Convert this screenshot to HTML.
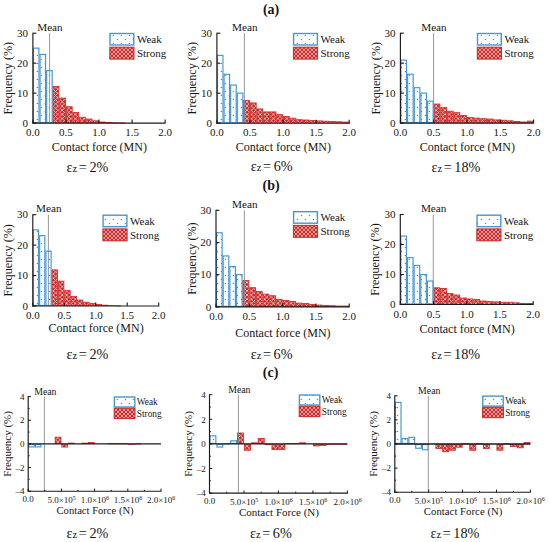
<!DOCTYPE html>
<html><head><meta charset="utf-8"><style>
html,body{margin:0;padding:0;background:#fff;}
svg{display:block;}
text{font-family:'Liberation Serif', serif;fill:#161616;}
</style></head><body>
<svg width="550" height="542" viewBox="0 0 550 542">
<defs>
<pattern id="pw" patternUnits="userSpaceOnUse" width="8" height="8" x="0.8" y="2.9">
<rect width="8" height="8" fill="#fff"/>
<rect x="0" y="0" width="1.1" height="1.1" fill="#2a64a8"/>
<rect x="4" y="4" width="1.1" height="1.1" fill="#2a64a8"/>
</pattern>
<pattern id="ps" patternUnits="userSpaceOnUse" width="4.4" height="4.2" x="0.6" y="1">
<rect width="4.4" height="4.2" fill="#cc2626"/>
<path d="M0 0L4.4 4.2M4.4 0L0 4.2" stroke="#f7e2e0" stroke-width="0.75"/>
</pattern>
<pattern id="pl" patternUnits="userSpaceOnUse" width="4" height="4">
<rect width="4" height="4" fill="#f0cfca"/>
<ellipse cx="0" cy="0" rx="1.45" ry="1.15" fill="#cc2626"/><ellipse cx="4" cy="0" rx="1.45" ry="1.15" fill="#cc2626"/><ellipse cx="0" cy="4" rx="1.45" ry="1.15" fill="#cc2626"/><ellipse cx="4" cy="4" rx="1.45" ry="1.15" fill="#cc2626"/>
<ellipse cx="2" cy="2" rx="1.45" ry="1.15" fill="#cc2626"/>
</pattern>
</defs>
<rect width="550" height="542" fill="#fff"/>
<rect x="33.45" y="48.13" width="5.51" height="74.42" fill="url(#pw)" stroke="#4596d6" stroke-width="1.15"/>
<rect x="40.06" y="54.43" width="5.51" height="68.12" fill="url(#pw)" stroke="#4596d6" stroke-width="1.15"/>
<rect x="46.67" y="70.61" width="5.51" height="51.94" fill="url(#pw)" stroke="#4596d6" stroke-width="1.15"/>
<rect x="53.13" y="86.34" width="5.81" height="36.36" fill="url(#ps)" stroke="#cc2626" stroke-width="0.8"/>
<rect x="59.74" y="98.03" width="5.81" height="24.67" fill="url(#ps)" stroke="#cc2626" stroke-width="0.8"/>
<rect x="66.35" y="106.72" width="5.81" height="15.98" fill="url(#ps)" stroke="#cc2626" stroke-width="0.8"/>
<rect x="72.96" y="112.41" width="5.81" height="10.29" fill="url(#ps)" stroke="#cc2626" stroke-width="0.8"/>
<rect x="79.57" y="117.21" width="5.81" height="5.49" fill="url(#ps)" stroke="#cc2626" stroke-width="0.8"/>
<rect x="86.18" y="119.00" width="5.81" height="3.70" fill="url(#ps)" stroke="#cc2626" stroke-width="0.8"/>
<rect x="92.79" y="120.80" width="5.81" height="1.90" fill="url(#ps)" stroke="#cc2626" stroke-width="0.8"/>
<rect x="99.40" y="122.00" width="5.81" height="0.70" fill="url(#ps)" stroke="#cc2626" stroke-width="0.8"/>
<rect x="106.01" y="122.45" width="5.81" height="0.25" fill="url(#ps)" stroke="#cc2626" stroke-width="0.8"/>
<rect x="112.62" y="122.75" width="5.81" height="0.10" fill="url(#ps)" stroke="#cc2626" stroke-width="0.8"/>
<rect x="119.23" y="122.90" width="5.81" height="0.10" fill="url(#ps)" stroke="#cc2626" stroke-width="0.8"/>
<line x1="49.60" y1="33.20" x2="49.60" y2="123.10" stroke="#8c8c8c" stroke-width="0.9"/>
<line x1="32.90" y1="32.70" x2="32.90" y2="123.60" stroke="#1a1a1a" stroke-width="1.15"/>
<line x1="32.40" y1="123.10" x2="165.60" y2="123.10" stroke="#1a1a1a" stroke-width="1.15"/>
<line x1="32.90" y1="123.10" x2="36.40" y2="123.10" stroke="#1a1a1a" stroke-width="1.1"/>
<text x="28.10" y="126.70" font-size="11" text-anchor="end" >0</text>
<line x1="32.90" y1="93.13" x2="36.40" y2="93.13" stroke="#1a1a1a" stroke-width="1.1"/>
<text x="28.10" y="96.73" font-size="11" text-anchor="end" >10</text>
<line x1="32.90" y1="63.17" x2="36.40" y2="63.17" stroke="#1a1a1a" stroke-width="1.1"/>
<text x="28.10" y="66.77" font-size="11" text-anchor="end" >20</text>
<line x1="32.90" y1="33.20" x2="36.40" y2="33.20" stroke="#1a1a1a" stroke-width="1.1"/>
<text x="28.10" y="36.80" font-size="11" text-anchor="end" >30</text>
<line x1="32.90" y1="123.10" x2="32.90" y2="119.60" stroke="#1a1a1a" stroke-width="1.1"/>
<text x="32.90" y="136.30" font-size="11" text-anchor="middle" >0.0</text>
<line x1="65.95" y1="123.10" x2="65.95" y2="119.60" stroke="#1a1a1a" stroke-width="1.1"/>
<text x="65.95" y="136.30" font-size="11" text-anchor="middle" >0.5</text>
<line x1="99.00" y1="123.10" x2="99.00" y2="119.60" stroke="#1a1a1a" stroke-width="1.1"/>
<text x="99.00" y="136.30" font-size="11" text-anchor="middle" >1.0</text>
<line x1="132.05" y1="123.10" x2="132.05" y2="119.60" stroke="#1a1a1a" stroke-width="1.1"/>
<text x="132.05" y="136.30" font-size="11" text-anchor="middle" >1.5</text>
<line x1="165.10" y1="123.10" x2="165.10" y2="119.60" stroke="#1a1a1a" stroke-width="1.1"/>
<text x="165.10" y="136.30" font-size="11" text-anchor="middle" >2.0</text>
<text x="37.20" y="30.80" font-size="11.2" text-anchor="start" >Mean</text>
<text x="99.30" y="150.60" font-size="12" text-anchor="middle" >Contact force (MN)</text>
<text x="11.80" y="78.15" font-size="12.15" text-anchor="middle" transform="rotate(-90 11.80 78.15)">Frequency (%)</text>
<rect x="110.00" y="33.50" width="23.80" height="11.50" fill="url(#pw)" stroke="#4596d6" stroke-width="1.4"/>
<rect x="109.80" y="47.20" width="24.20" height="11.90" fill="url(#pl)" stroke="#cc2626" stroke-width="1"/>
<text x="136.90" y="43.21" font-size="11" text-anchor="start" >Weak</text>
<text x="136.90" y="57.11" font-size="11" text-anchor="start" >Strong</text>
<text x="66.60" y="172.30" font-size="14.2">ε<tspan font-size="10.5">z</tspan><tspan dx="1.6">=</tspan><tspan dx="2.6">2%</tspan></text>
<rect x="217.45" y="55.35" width="5.52" height="67.30" fill="url(#pw)" stroke="#4596d6" stroke-width="1.15"/>
<rect x="224.07" y="74.25" width="5.51" height="48.40" fill="url(#pw)" stroke="#4596d6" stroke-width="1.15"/>
<rect x="230.68" y="85.05" width="5.52" height="37.60" fill="url(#pw)" stroke="#4596d6" stroke-width="1.15"/>
<rect x="237.30" y="93.15" width="5.52" height="29.50" fill="url(#pw)" stroke="#4596d6" stroke-width="1.15"/>
<rect x="243.76" y="100.50" width="5.81" height="22.30" fill="url(#ps)" stroke="#cc2626" stroke-width="0.8"/>
<rect x="250.38" y="102.90" width="5.82" height="19.90" fill="url(#ps)" stroke="#cc2626" stroke-width="0.8"/>
<rect x="256.99" y="108.90" width="5.81" height="13.90" fill="url(#ps)" stroke="#cc2626" stroke-width="0.8"/>
<rect x="263.60" y="111.90" width="5.82" height="10.90" fill="url(#ps)" stroke="#cc2626" stroke-width="0.8"/>
<rect x="270.22" y="111.90" width="5.82" height="10.90" fill="url(#ps)" stroke="#cc2626" stroke-width="0.8"/>
<rect x="276.83" y="114.60" width="5.82" height="8.20" fill="url(#ps)" stroke="#cc2626" stroke-width="0.8"/>
<rect x="283.45" y="116.40" width="5.81" height="6.40" fill="url(#ps)" stroke="#cc2626" stroke-width="0.8"/>
<rect x="290.06" y="118.20" width="5.82" height="4.60" fill="url(#ps)" stroke="#cc2626" stroke-width="0.8"/>
<rect x="296.68" y="119.70" width="5.82" height="3.10" fill="url(#ps)" stroke="#cc2626" stroke-width="0.8"/>
<rect x="303.29" y="120.00" width="5.82" height="2.80" fill="url(#ps)" stroke="#cc2626" stroke-width="0.8"/>
<rect x="309.91" y="120.60" width="5.82" height="2.20" fill="url(#ps)" stroke="#cc2626" stroke-width="0.8"/>
<rect x="316.52" y="120.90" width="5.82" height="1.90" fill="url(#ps)" stroke="#cc2626" stroke-width="0.8"/>
<rect x="323.14" y="121.20" width="5.82" height="1.60" fill="url(#ps)" stroke="#cc2626" stroke-width="0.8"/>
<rect x="329.75" y="121.50" width="5.82" height="1.30" fill="url(#ps)" stroke="#cc2626" stroke-width="0.8"/>
<rect x="336.37" y="121.80" width="5.81" height="1.00" fill="url(#ps)" stroke="#cc2626" stroke-width="0.8"/>
<rect x="342.98" y="122.10" width="5.82" height="0.70" fill="url(#ps)" stroke="#cc2626" stroke-width="0.8"/>
<line x1="244.40" y1="33.20" x2="244.40" y2="123.20" stroke="#8c8c8c" stroke-width="0.9"/>
<line x1="216.90" y1="32.70" x2="216.90" y2="123.70" stroke="#1a1a1a" stroke-width="1.15"/>
<line x1="216.40" y1="123.20" x2="349.70" y2="123.20" stroke="#1a1a1a" stroke-width="1.15"/>
<line x1="216.90" y1="123.20" x2="220.40" y2="123.20" stroke="#1a1a1a" stroke-width="1.1"/>
<text x="212.10" y="126.80" font-size="11" text-anchor="end" >0</text>
<line x1="216.90" y1="93.20" x2="220.40" y2="93.20" stroke="#1a1a1a" stroke-width="1.1"/>
<text x="212.10" y="96.80" font-size="11" text-anchor="end" >10</text>
<line x1="216.90" y1="63.20" x2="220.40" y2="63.20" stroke="#1a1a1a" stroke-width="1.1"/>
<text x="212.10" y="66.80" font-size="11" text-anchor="end" >20</text>
<line x1="216.90" y1="33.20" x2="220.40" y2="33.20" stroke="#1a1a1a" stroke-width="1.1"/>
<text x="212.10" y="36.80" font-size="11" text-anchor="end" >30</text>
<line x1="216.90" y1="123.20" x2="216.90" y2="119.70" stroke="#1a1a1a" stroke-width="1.1"/>
<text x="216.90" y="136.40" font-size="11" text-anchor="middle" >0.0</text>
<line x1="249.97" y1="123.20" x2="249.97" y2="119.70" stroke="#1a1a1a" stroke-width="1.1"/>
<text x="249.97" y="136.40" font-size="11" text-anchor="middle" >0.5</text>
<line x1="283.05" y1="123.20" x2="283.05" y2="119.70" stroke="#1a1a1a" stroke-width="1.1"/>
<text x="283.05" y="136.40" font-size="11" text-anchor="middle" >1.0</text>
<line x1="316.12" y1="123.20" x2="316.12" y2="119.70" stroke="#1a1a1a" stroke-width="1.1"/>
<text x="316.12" y="136.40" font-size="11" text-anchor="middle" >1.5</text>
<line x1="349.20" y1="123.20" x2="349.20" y2="119.70" stroke="#1a1a1a" stroke-width="1.1"/>
<text x="349.20" y="136.40" font-size="11" text-anchor="middle" >2.0</text>
<text x="232.00" y="30.80" font-size="11.2" text-anchor="start" >Mean</text>
<text x="283.35" y="150.60" font-size="12" text-anchor="middle" >Contact force (MN)</text>
<text x="195.80" y="78.20" font-size="12.15" text-anchor="middle" transform="rotate(-90 195.80 78.20)">Frequency (%)</text>
<rect x="293.60" y="33.50" width="23.80" height="11.50" fill="url(#pw)" stroke="#4596d6" stroke-width="1.4"/>
<rect x="293.40" y="47.20" width="24.20" height="11.90" fill="url(#pl)" stroke="#cc2626" stroke-width="1"/>
<text x="320.50" y="43.21" font-size="11" text-anchor="start" >Weak</text>
<text x="320.50" y="57.11" font-size="11" text-anchor="start" >Strong</text>
<text x="250.80" y="171.30" font-size="14.2">ε<tspan font-size="10.5">z</tspan><tspan dx="1.6">=</tspan><tspan dx="2.6">6%</tspan></text>
<rect x="400.95" y="60.12" width="5.56" height="62.43" fill="url(#pw)" stroke="#4596d6" stroke-width="1.15"/>
<rect x="407.61" y="74.20" width="5.56" height="48.34" fill="url(#pw)" stroke="#4596d6" stroke-width="1.15"/>
<rect x="414.27" y="87.69" width="5.56" height="34.86" fill="url(#pw)" stroke="#4596d6" stroke-width="1.15"/>
<rect x="420.93" y="93.08" width="5.56" height="29.47" fill="url(#pw)" stroke="#4596d6" stroke-width="1.15"/>
<rect x="427.59" y="101.17" width="5.56" height="21.37" fill="url(#pw)" stroke="#4596d6" stroke-width="1.15"/>
<rect x="434.10" y="104.02" width="5.86" height="18.68" fill="url(#ps)" stroke="#cc2626" stroke-width="0.8"/>
<rect x="440.76" y="107.62" width="5.86" height="15.08" fill="url(#ps)" stroke="#cc2626" stroke-width="0.8"/>
<rect x="447.42" y="111.21" width="5.86" height="11.49" fill="url(#ps)" stroke="#cc2626" stroke-width="0.8"/>
<rect x="454.08" y="112.71" width="5.86" height="9.99" fill="url(#ps)" stroke="#cc2626" stroke-width="0.8"/>
<rect x="460.74" y="115.41" width="5.86" height="7.29" fill="url(#ps)" stroke="#cc2626" stroke-width="0.8"/>
<rect x="467.40" y="117.51" width="5.86" height="5.19" fill="url(#ps)" stroke="#cc2626" stroke-width="0.8"/>
<rect x="474.06" y="118.11" width="5.86" height="4.59" fill="url(#ps)" stroke="#cc2626" stroke-width="0.8"/>
<rect x="480.72" y="118.71" width="5.86" height="3.99" fill="url(#ps)" stroke="#cc2626" stroke-width="0.8"/>
<rect x="487.38" y="119.00" width="5.86" height="3.70" fill="url(#ps)" stroke="#cc2626" stroke-width="0.8"/>
<rect x="494.04" y="119.90" width="5.86" height="2.80" fill="url(#ps)" stroke="#cc2626" stroke-width="0.8"/>
<rect x="500.70" y="120.20" width="5.86" height="2.50" fill="url(#ps)" stroke="#cc2626" stroke-width="0.8"/>
<rect x="507.36" y="120.80" width="5.86" height="1.90" fill="url(#ps)" stroke="#cc2626" stroke-width="0.8"/>
<rect x="514.02" y="121.40" width="5.86" height="1.30" fill="url(#ps)" stroke="#cc2626" stroke-width="0.8"/>
<rect x="520.68" y="122.00" width="5.86" height="0.70" fill="url(#ps)" stroke="#cc2626" stroke-width="0.8"/>
<rect x="527.34" y="121.10" width="5.86" height="1.60" fill="url(#ps)" stroke="#cc2626" stroke-width="0.8"/>
<line x1="433.60" y1="33.20" x2="433.60" y2="123.10" stroke="#8c8c8c" stroke-width="0.9"/>
<line x1="400.40" y1="32.70" x2="400.40" y2="123.60" stroke="#1a1a1a" stroke-width="1.15"/>
<line x1="399.90" y1="123.10" x2="534.10" y2="123.10" stroke="#1a1a1a" stroke-width="1.15"/>
<line x1="400.40" y1="123.10" x2="403.90" y2="123.10" stroke="#1a1a1a" stroke-width="1.1"/>
<text x="395.60" y="126.70" font-size="11" text-anchor="end" >0</text>
<line x1="400.40" y1="93.13" x2="403.90" y2="93.13" stroke="#1a1a1a" stroke-width="1.1"/>
<text x="395.60" y="96.73" font-size="11" text-anchor="end" >10</text>
<line x1="400.40" y1="63.17" x2="403.90" y2="63.17" stroke="#1a1a1a" stroke-width="1.1"/>
<text x="395.60" y="66.77" font-size="11" text-anchor="end" >20</text>
<line x1="400.40" y1="33.20" x2="403.90" y2="33.20" stroke="#1a1a1a" stroke-width="1.1"/>
<text x="395.60" y="36.80" font-size="11" text-anchor="end" >30</text>
<line x1="400.40" y1="123.10" x2="400.40" y2="119.60" stroke="#1a1a1a" stroke-width="1.1"/>
<text x="400.40" y="136.30" font-size="11" text-anchor="middle" >0.0</text>
<line x1="433.70" y1="123.10" x2="433.70" y2="119.60" stroke="#1a1a1a" stroke-width="1.1"/>
<text x="433.70" y="136.30" font-size="11" text-anchor="middle" >0.5</text>
<line x1="467.00" y1="123.10" x2="467.00" y2="119.60" stroke="#1a1a1a" stroke-width="1.1"/>
<text x="467.00" y="136.30" font-size="11" text-anchor="middle" >1.0</text>
<line x1="500.30" y1="123.10" x2="500.30" y2="119.60" stroke="#1a1a1a" stroke-width="1.1"/>
<text x="500.30" y="136.30" font-size="11" text-anchor="middle" >1.5</text>
<line x1="533.60" y1="123.10" x2="533.60" y2="119.60" stroke="#1a1a1a" stroke-width="1.1"/>
<text x="533.60" y="136.30" font-size="11" text-anchor="middle" >2.0</text>
<text x="421.20" y="30.80" font-size="11.2" text-anchor="start" >Mean</text>
<text x="467.30" y="150.60" font-size="12" text-anchor="middle" >Contact force (MN)</text>
<text x="379.80" y="78.15" font-size="12.15" text-anchor="middle" transform="rotate(-90 379.80 78.15)">Frequency (%)</text>
<rect x="477.50" y="33.50" width="23.80" height="11.50" fill="url(#pw)" stroke="#4596d6" stroke-width="1.4"/>
<rect x="477.30" y="47.20" width="24.20" height="11.90" fill="url(#pl)" stroke="#cc2626" stroke-width="1"/>
<text x="504.40" y="43.21" font-size="11" text-anchor="start" >Weak</text>
<text x="504.40" y="57.11" font-size="11" text-anchor="start" >Strong</text>
<text x="431.50" y="171.60" font-size="14.2">ε<tspan font-size="10.5">z</tspan><tspan dx="1.6">=</tspan><tspan dx="2.6">18%</tspan></text>
<rect x="33.35" y="229.86" width="5.20" height="75.59" fill="url(#pw)" stroke="#4596d6" stroke-width="1.15"/>
<rect x="39.64" y="235.64" width="5.20" height="69.81" fill="url(#pw)" stroke="#4596d6" stroke-width="1.15"/>
<rect x="45.94" y="251.16" width="5.19" height="54.29" fill="url(#pw)" stroke="#4596d6" stroke-width="1.15"/>
<rect x="52.08" y="269.88" width="5.50" height="35.72" fill="url(#ps)" stroke="#cc2626" stroke-width="0.8"/>
<rect x="58.38" y="281.14" width="5.50" height="24.46" fill="url(#ps)" stroke="#cc2626" stroke-width="0.8"/>
<rect x="64.68" y="290.57" width="5.49" height="15.03" fill="url(#ps)" stroke="#cc2626" stroke-width="0.8"/>
<rect x="70.97" y="296.36" width="5.50" height="9.24" fill="url(#ps)" stroke="#cc2626" stroke-width="0.8"/>
<rect x="77.27" y="300.01" width="5.50" height="5.59" fill="url(#ps)" stroke="#cc2626" stroke-width="0.8"/>
<rect x="83.56" y="302.14" width="5.50" height="3.46" fill="url(#ps)" stroke="#cc2626" stroke-width="0.8"/>
<rect x="89.86" y="303.36" width="5.50" height="2.24" fill="url(#ps)" stroke="#cc2626" stroke-width="0.8"/>
<rect x="96.15" y="304.57" width="5.50" height="1.03" fill="url(#ps)" stroke="#cc2626" stroke-width="0.8"/>
<rect x="102.45" y="305.18" width="5.49" height="0.42" fill="url(#ps)" stroke="#cc2626" stroke-width="0.8"/>
<rect x="108.74" y="305.49" width="5.50" height="0.11" fill="url(#ps)" stroke="#cc2626" stroke-width="0.8"/>
<rect x="115.03" y="305.79" width="5.50" height="0.10" fill="url(#ps)" stroke="#cc2626" stroke-width="0.8"/>
<line x1="48.40" y1="214.70" x2="48.40" y2="306.00" stroke="#8c8c8c" stroke-width="0.9"/>
<line x1="32.80" y1="214.20" x2="32.80" y2="306.50" stroke="#1a1a1a" stroke-width="1.15"/>
<line x1="32.30" y1="306.00" x2="159.20" y2="306.00" stroke="#1a1a1a" stroke-width="1.15"/>
<line x1="32.80" y1="306.00" x2="36.30" y2="306.00" stroke="#1a1a1a" stroke-width="1.1"/>
<text x="28.00" y="309.60" font-size="11" text-anchor="end" >0</text>
<line x1="32.80" y1="275.57" x2="36.30" y2="275.57" stroke="#1a1a1a" stroke-width="1.1"/>
<text x="28.00" y="279.17" font-size="11" text-anchor="end" >10</text>
<line x1="32.80" y1="245.13" x2="36.30" y2="245.13" stroke="#1a1a1a" stroke-width="1.1"/>
<text x="28.00" y="248.73" font-size="11" text-anchor="end" >20</text>
<line x1="32.80" y1="214.70" x2="36.30" y2="214.70" stroke="#1a1a1a" stroke-width="1.1"/>
<text x="28.00" y="218.30" font-size="11" text-anchor="end" >30</text>
<line x1="32.80" y1="306.00" x2="32.80" y2="302.50" stroke="#1a1a1a" stroke-width="1.1"/>
<text x="32.80" y="319.20" font-size="11" text-anchor="middle" >0.0</text>
<line x1="64.27" y1="306.00" x2="64.27" y2="302.50" stroke="#1a1a1a" stroke-width="1.1"/>
<text x="64.27" y="319.20" font-size="11" text-anchor="middle" >0.5</text>
<line x1="95.75" y1="306.00" x2="95.75" y2="302.50" stroke="#1a1a1a" stroke-width="1.1"/>
<text x="95.75" y="319.20" font-size="11" text-anchor="middle" >1.0</text>
<line x1="127.22" y1="306.00" x2="127.22" y2="302.50" stroke="#1a1a1a" stroke-width="1.1"/>
<text x="127.22" y="319.20" font-size="11" text-anchor="middle" >1.5</text>
<line x1="158.70" y1="306.00" x2="158.70" y2="302.50" stroke="#1a1a1a" stroke-width="1.1"/>
<text x="158.70" y="319.20" font-size="11" text-anchor="middle" >2.0</text>
<text x="36.00" y="212.30" font-size="11.2" text-anchor="start" >Mean</text>
<text x="96.05" y="331.80" font-size="12" text-anchor="middle" >Contact force (MN)</text>
<text x="11.70" y="260.35" font-size="12.15" text-anchor="middle" transform="rotate(-90 11.70 260.35)">Frequency (%)</text>
<rect x="103.10" y="215.20" width="23.80" height="11.50" fill="url(#pw)" stroke="#4596d6" stroke-width="1.4"/>
<rect x="102.90" y="228.90" width="24.20" height="11.90" fill="url(#pl)" stroke="#cc2626" stroke-width="1"/>
<text x="130.00" y="224.91" font-size="11" text-anchor="start" >Weak</text>
<text x="130.00" y="238.81" font-size="11" text-anchor="start" >Strong</text>
<text x="66.60" y="359.10" font-size="14.2">ε<tspan font-size="10.5">z</tspan><tspan dx="1.6">=</tspan><tspan dx="2.6">2%</tspan></text>
<rect x="216.55" y="232.75" width="5.56" height="73.60" fill="url(#pw)" stroke="#4596d6" stroke-width="1.15"/>
<rect x="223.21" y="255.93" width="5.56" height="50.42" fill="url(#pw)" stroke="#4596d6" stroke-width="1.15"/>
<rect x="229.87" y="266.56" width="5.56" height="39.79" fill="url(#pw)" stroke="#4596d6" stroke-width="1.15"/>
<rect x="236.53" y="274.61" width="5.56" height="31.74" fill="url(#pw)" stroke="#4596d6" stroke-width="1.15"/>
<rect x="243.04" y="280.57" width="5.86" height="25.93" fill="url(#ps)" stroke="#cc2626" stroke-width="0.8"/>
<rect x="249.70" y="287.66" width="5.86" height="18.84" fill="url(#ps)" stroke="#cc2626" stroke-width="0.8"/>
<rect x="256.36" y="291.52" width="5.86" height="14.98" fill="url(#ps)" stroke="#cc2626" stroke-width="0.8"/>
<rect x="263.02" y="294.10" width="5.86" height="12.40" fill="url(#ps)" stroke="#cc2626" stroke-width="0.8"/>
<rect x="269.68" y="295.71" width="5.86" height="10.79" fill="url(#ps)" stroke="#cc2626" stroke-width="0.8"/>
<rect x="276.34" y="299.25" width="5.86" height="7.25" fill="url(#ps)" stroke="#cc2626" stroke-width="0.8"/>
<rect x="283.00" y="300.54" width="5.86" height="5.96" fill="url(#ps)" stroke="#cc2626" stroke-width="0.8"/>
<rect x="289.66" y="301.50" width="5.86" height="5.00" fill="url(#ps)" stroke="#cc2626" stroke-width="0.8"/>
<rect x="296.32" y="303.11" width="5.86" height="3.39" fill="url(#ps)" stroke="#cc2626" stroke-width="0.8"/>
<rect x="302.98" y="303.44" width="5.86" height="3.06" fill="url(#ps)" stroke="#cc2626" stroke-width="0.8"/>
<rect x="309.64" y="304.40" width="5.86" height="2.10" fill="url(#ps)" stroke="#cc2626" stroke-width="0.8"/>
<rect x="316.30" y="305.05" width="5.86" height="1.45" fill="url(#ps)" stroke="#cc2626" stroke-width="0.8"/>
<rect x="322.96" y="305.37" width="5.86" height="1.13" fill="url(#ps)" stroke="#cc2626" stroke-width="0.8"/>
<rect x="329.62" y="305.69" width="5.86" height="0.81" fill="url(#ps)" stroke="#cc2626" stroke-width="0.8"/>
<rect x="336.28" y="306.01" width="5.86" height="0.49" fill="url(#ps)" stroke="#cc2626" stroke-width="0.8"/>
<rect x="342.94" y="306.01" width="5.86" height="0.49" fill="url(#ps)" stroke="#cc2626" stroke-width="0.8"/>
<line x1="244.40" y1="210.30" x2="244.40" y2="306.90" stroke="#8c8c8c" stroke-width="0.9"/>
<line x1="216.00" y1="209.80" x2="216.00" y2="307.40" stroke="#1a1a1a" stroke-width="1.15"/>
<line x1="215.50" y1="306.90" x2="349.70" y2="306.90" stroke="#1a1a1a" stroke-width="1.15"/>
<line x1="216.00" y1="306.90" x2="219.50" y2="306.90" stroke="#1a1a1a" stroke-width="1.1"/>
<text x="211.20" y="310.50" font-size="11" text-anchor="end" >0</text>
<line x1="216.00" y1="274.70" x2="219.50" y2="274.70" stroke="#1a1a1a" stroke-width="1.1"/>
<text x="211.20" y="278.30" font-size="11" text-anchor="end" >10</text>
<line x1="216.00" y1="242.50" x2="219.50" y2="242.50" stroke="#1a1a1a" stroke-width="1.1"/>
<text x="211.20" y="246.10" font-size="11" text-anchor="end" >20</text>
<line x1="216.00" y1="210.30" x2="219.50" y2="210.30" stroke="#1a1a1a" stroke-width="1.1"/>
<text x="211.20" y="213.90" font-size="11" text-anchor="end" >30</text>
<line x1="216.00" y1="306.90" x2="216.00" y2="303.40" stroke="#1a1a1a" stroke-width="1.1"/>
<text x="216.00" y="320.10" font-size="11" text-anchor="middle" >0.0</text>
<line x1="249.30" y1="306.90" x2="249.30" y2="303.40" stroke="#1a1a1a" stroke-width="1.1"/>
<text x="249.30" y="320.10" font-size="11" text-anchor="middle" >0.5</text>
<line x1="282.60" y1="306.90" x2="282.60" y2="303.40" stroke="#1a1a1a" stroke-width="1.1"/>
<text x="282.60" y="320.10" font-size="11" text-anchor="middle" >1.0</text>
<line x1="315.90" y1="306.90" x2="315.90" y2="303.40" stroke="#1a1a1a" stroke-width="1.1"/>
<text x="315.90" y="320.10" font-size="11" text-anchor="middle" >1.5</text>
<line x1="349.20" y1="306.90" x2="349.20" y2="303.40" stroke="#1a1a1a" stroke-width="1.1"/>
<text x="349.20" y="320.10" font-size="11" text-anchor="middle" >2.0</text>
<text x="232.00" y="207.90" font-size="11.2" text-anchor="start" >Mean</text>
<text x="282.90" y="337.00" font-size="12" text-anchor="middle" >Contact force (MN)</text>
<text x="195.80" y="258.60" font-size="12.15" text-anchor="middle" transform="rotate(-90 195.80 258.60)">Frequency (%)</text>
<rect x="293.60" y="211.70" width="23.80" height="11.50" fill="url(#pw)" stroke="#4596d6" stroke-width="1.4"/>
<rect x="293.40" y="225.40" width="24.20" height="11.90" fill="url(#pl)" stroke="#cc2626" stroke-width="1"/>
<text x="320.50" y="221.41" font-size="11" text-anchor="start" >Weak</text>
<text x="320.50" y="235.31" font-size="11" text-anchor="start" >Strong</text>
<text x="250.70" y="358.50" font-size="14.2">ε<tspan font-size="10.5">z</tspan><tspan dx="1.6">=</tspan><tspan dx="2.6">6%</tspan></text>
<rect x="400.85" y="236.05" width="5.54" height="67.90" fill="url(#pw)" stroke="#4596d6" stroke-width="1.15"/>
<rect x="407.50" y="257.65" width="5.55" height="46.30" fill="url(#pw)" stroke="#4596d6" stroke-width="1.15"/>
<rect x="414.14" y="265.45" width="5.54" height="38.50" fill="url(#pw)" stroke="#4596d6" stroke-width="1.15"/>
<rect x="420.79" y="274.45" width="5.54" height="29.50" fill="url(#pw)" stroke="#4596d6" stroke-width="1.15"/>
<rect x="427.43" y="281.05" width="5.55" height="22.90" fill="url(#pw)" stroke="#4596d6" stroke-width="1.15"/>
<rect x="433.93" y="287.80" width="5.84" height="16.30" fill="url(#ps)" stroke="#cc2626" stroke-width="0.8"/>
<rect x="440.57" y="288.40" width="5.84" height="15.70" fill="url(#ps)" stroke="#cc2626" stroke-width="0.8"/>
<rect x="447.21" y="293.50" width="5.85" height="10.60" fill="url(#ps)" stroke="#cc2626" stroke-width="0.8"/>
<rect x="453.86" y="295.00" width="5.84" height="9.10" fill="url(#ps)" stroke="#cc2626" stroke-width="0.8"/>
<rect x="460.50" y="298.00" width="5.84" height="6.10" fill="url(#ps)" stroke="#cc2626" stroke-width="0.8"/>
<rect x="467.15" y="298.90" width="5.85" height="5.20" fill="url(#ps)" stroke="#cc2626" stroke-width="0.8"/>
<rect x="473.80" y="299.50" width="5.84" height="4.60" fill="url(#ps)" stroke="#cc2626" stroke-width="0.8"/>
<rect x="480.44" y="301.00" width="5.85" height="3.10" fill="url(#ps)" stroke="#cc2626" stroke-width="0.8"/>
<rect x="487.09" y="301.60" width="5.84" height="2.50" fill="url(#ps)" stroke="#cc2626" stroke-width="0.8"/>
<rect x="493.73" y="301.90" width="5.84" height="2.20" fill="url(#ps)" stroke="#cc2626" stroke-width="0.8"/>
<rect x="500.38" y="302.20" width="5.84" height="1.90" fill="url(#ps)" stroke="#cc2626" stroke-width="0.8"/>
<rect x="507.02" y="302.20" width="5.84" height="1.90" fill="url(#ps)" stroke="#cc2626" stroke-width="0.8"/>
<rect x="513.66" y="302.80" width="5.85" height="1.30" fill="url(#ps)" stroke="#cc2626" stroke-width="0.8"/>
<rect x="520.31" y="303.40" width="5.84" height="0.70" fill="url(#ps)" stroke="#cc2626" stroke-width="0.8"/>
<rect x="526.96" y="303.40" width="5.84" height="0.70" fill="url(#ps)" stroke="#cc2626" stroke-width="0.8"/>
<line x1="433.30" y1="214.50" x2="433.30" y2="304.50" stroke="#8c8c8c" stroke-width="0.9"/>
<line x1="400.30" y1="214.00" x2="400.30" y2="305.00" stroke="#1a1a1a" stroke-width="1.15"/>
<line x1="399.80" y1="304.50" x2="533.70" y2="304.50" stroke="#1a1a1a" stroke-width="1.15"/>
<line x1="400.30" y1="304.50" x2="403.80" y2="304.50" stroke="#1a1a1a" stroke-width="1.1"/>
<text x="395.50" y="308.10" font-size="11" text-anchor="end" >0</text>
<line x1="400.30" y1="274.50" x2="403.80" y2="274.50" stroke="#1a1a1a" stroke-width="1.1"/>
<text x="395.50" y="278.10" font-size="11" text-anchor="end" >10</text>
<line x1="400.30" y1="244.50" x2="403.80" y2="244.50" stroke="#1a1a1a" stroke-width="1.1"/>
<text x="395.50" y="248.10" font-size="11" text-anchor="end" >20</text>
<line x1="400.30" y1="214.50" x2="403.80" y2="214.50" stroke="#1a1a1a" stroke-width="1.1"/>
<text x="395.50" y="218.10" font-size="11" text-anchor="end" >30</text>
<line x1="400.30" y1="304.50" x2="400.30" y2="301.00" stroke="#1a1a1a" stroke-width="1.1"/>
<text x="400.30" y="317.70" font-size="11" text-anchor="middle" >0.0</text>
<line x1="433.53" y1="304.50" x2="433.53" y2="301.00" stroke="#1a1a1a" stroke-width="1.1"/>
<text x="433.53" y="317.70" font-size="11" text-anchor="middle" >0.5</text>
<line x1="466.75" y1="304.50" x2="466.75" y2="301.00" stroke="#1a1a1a" stroke-width="1.1"/>
<text x="466.75" y="317.70" font-size="11" text-anchor="middle" >1.0</text>
<line x1="499.98" y1="304.50" x2="499.98" y2="301.00" stroke="#1a1a1a" stroke-width="1.1"/>
<text x="499.98" y="317.70" font-size="11" text-anchor="middle" >1.5</text>
<line x1="533.20" y1="304.50" x2="533.20" y2="301.00" stroke="#1a1a1a" stroke-width="1.1"/>
<text x="533.20" y="317.70" font-size="11" text-anchor="middle" >2.0</text>
<text x="420.90" y="212.10" font-size="11.2" text-anchor="start" >Mean</text>
<text x="467.05" y="332.80" font-size="12" text-anchor="middle" >Contact force (MN)</text>
<text x="379.10" y="259.50" font-size="12.15" text-anchor="middle" transform="rotate(-90 379.10 259.50)">Frequency (%)</text>
<rect x="477.00" y="215.20" width="23.80" height="11.50" fill="url(#pw)" stroke="#4596d6" stroke-width="1.4"/>
<rect x="476.80" y="228.90" width="24.20" height="11.90" fill="url(#pl)" stroke="#cc2626" stroke-width="1"/>
<text x="503.90" y="224.91" font-size="11" text-anchor="start" >Weak</text>
<text x="503.90" y="238.81" font-size="11" text-anchor="start" >Strong</text>
<text x="431.20" y="359.10" font-size="14.2">ε<tspan font-size="10.5">z</tspan><tspan dx="1.6">=</tspan><tspan dx="2.6">18%</tspan></text>
<rect x="28.75" y="444.45" width="5.54" height="2.45" fill="url(#pw)" stroke="#4596d6" stroke-width="1.15"/>
<rect x="35.39" y="444.45" width="5.54" height="2.45" fill="url(#pw)" stroke="#4596d6" stroke-width="1.15"/>
<rect x="55.16" y="437.20" width="5.84" height="6.29" fill="url(#ps)" stroke="#cc2626" stroke-width="0.8"/>
<rect x="61.80" y="444.30" width="5.84" height="2.75" fill="url(#ps)" stroke="#cc2626" stroke-width="0.8"/>
<rect x="68.44" y="443.12" width="5.84" height="0.38" fill="url(#ps)" stroke="#cc2626" stroke-width="0.8"/>
<rect x="81.72" y="443.12" width="5.84" height="0.38" fill="url(#ps)" stroke="#cc2626" stroke-width="0.8"/>
<rect x="88.36" y="442.53" width="5.84" height="0.97" fill="url(#ps)" stroke="#cc2626" stroke-width="0.8"/>
<rect x="108.28" y="443.71" width="5.84" height="0.10" fill="url(#ps)" stroke="#cc2626" stroke-width="0.8"/>
<rect x="114.92" y="443.71" width="5.84" height="0.10" fill="url(#ps)" stroke="#cc2626" stroke-width="0.8"/>
<rect x="121.56" y="443.71" width="5.84" height="0.10" fill="url(#ps)" stroke="#cc2626" stroke-width="0.8"/>
<rect x="128.20" y="444.30" width="5.84" height="0.10" fill="url(#ps)" stroke="#cc2626" stroke-width="0.8"/>
<rect x="134.84" y="443.95" width="5.84" height="0.10" fill="url(#ps)" stroke="#cc2626" stroke-width="0.8"/>
<line x1="44.40" y1="396.60" x2="44.40" y2="491.20" stroke="#8c8c8c" stroke-width="0.9"/>
<line x1="28.20" y1="443.90" x2="161.00" y2="443.90" stroke="#1a1a1a" stroke-width="1.3"/>
<line x1="28.20" y1="396.10" x2="28.20" y2="491.70" stroke="#1a1a1a" stroke-width="1.15"/>
<line x1="27.70" y1="491.20" x2="161.50" y2="491.20" stroke="#1a1a1a" stroke-width="1.15"/>
<line x1="28.20" y1="491.20" x2="31.00" y2="491.20" stroke="#1a1a1a" stroke-width="1.0"/>
<text x="24.40" y="494.40" font-size="9" text-anchor="end" >–4</text>
<line x1="28.20" y1="479.38" x2="29.60" y2="479.38" stroke="#1a1a1a" stroke-width="1.0"/>
<line x1="28.20" y1="467.55" x2="31.00" y2="467.55" stroke="#1a1a1a" stroke-width="1.0"/>
<text x="24.40" y="470.75" font-size="9" text-anchor="end" >–2</text>
<line x1="28.20" y1="455.73" x2="29.60" y2="455.73" stroke="#1a1a1a" stroke-width="1.0"/>
<line x1="28.20" y1="443.90" x2="31.00" y2="443.90" stroke="#1a1a1a" stroke-width="1.0"/>
<text x="24.40" y="447.10" font-size="9" text-anchor="end" >0</text>
<line x1="28.20" y1="432.07" x2="29.60" y2="432.07" stroke="#1a1a1a" stroke-width="1.0"/>
<line x1="28.20" y1="420.25" x2="31.00" y2="420.25" stroke="#1a1a1a" stroke-width="1.0"/>
<text x="24.40" y="423.45" font-size="9" text-anchor="end" >2</text>
<line x1="28.20" y1="408.43" x2="29.60" y2="408.43" stroke="#1a1a1a" stroke-width="1.0"/>
<line x1="28.20" y1="396.60" x2="31.00" y2="396.60" stroke="#1a1a1a" stroke-width="1.0"/>
<text x="24.40" y="399.80" font-size="9" text-anchor="end" >4</text>
<line x1="28.20" y1="491.20" x2="28.20" y2="488.60" stroke="#1a1a1a" stroke-width="1.0"/>
<text x="28.20" y="501.60" font-size="9" text-anchor="middle" >0.0</text>
<line x1="44.80" y1="491.20" x2="44.80" y2="489.80" stroke="#1a1a1a" stroke-width="1.0"/>
<line x1="61.40" y1="491.20" x2="61.40" y2="488.60" stroke="#1a1a1a" stroke-width="1.0"/>
<text x="61.60" y="503.20" font-size="9" text-anchor="middle" >5.0×10<tspan font-size="6" dy="-3.6">5</tspan></text>
<line x1="78.00" y1="491.20" x2="78.00" y2="489.80" stroke="#1a1a1a" stroke-width="1.0"/>
<line x1="94.60" y1="491.20" x2="94.60" y2="488.60" stroke="#1a1a1a" stroke-width="1.0"/>
<text x="94.80" y="503.20" font-size="9" text-anchor="middle" >1.0×10<tspan font-size="6" dy="-3.6">6</tspan></text>
<line x1="111.20" y1="491.20" x2="111.20" y2="489.80" stroke="#1a1a1a" stroke-width="1.0"/>
<line x1="127.80" y1="491.20" x2="127.80" y2="488.60" stroke="#1a1a1a" stroke-width="1.0"/>
<text x="128.00" y="503.20" font-size="9" text-anchor="middle" >1.5×10<tspan font-size="6" dy="-3.6">6</tspan></text>
<line x1="144.40" y1="491.20" x2="144.40" y2="489.80" stroke="#1a1a1a" stroke-width="1.0"/>
<line x1="161.00" y1="491.20" x2="161.00" y2="488.60" stroke="#1a1a1a" stroke-width="1.0"/>
<text x="161.20" y="503.20" font-size="9" text-anchor="middle" >2.0×10<tspan font-size="6" dy="-3.6">6</tspan></text>
<text x="34.20" y="395.00" font-size="9.8" text-anchor="start" >Mean</text>
<text x="95.10" y="513.80" font-size="10.6" text-anchor="middle" >Contact Force (N)</text>
<text x="10.80" y="443.90" font-size="11" text-anchor="middle" transform="rotate(-90 10.80 443.90)">Frequency (%)</text>
<rect x="114.40" y="397.00" width="20.40" height="10.00" fill="url(#pw)" stroke="#4596d6" stroke-width="1.4"/>
<rect x="114.20" y="408.20" width="20.80" height="10.40" fill="url(#pl)" stroke="#cc2626" stroke-width="1"/>
<text x="136.80" y="405.35" font-size="9.3" text-anchor="start" >Weak</text>
<text x="136.80" y="416.75" font-size="9.3" text-anchor="start" >Strong</text>
<text x="66.60" y="538.00" font-size="14.2">ε<tspan font-size="10.5">z</tspan><tspan dx="1.6">=</tspan><tspan dx="2.6">2%</tspan></text>
<rect x="210.05" y="435.84" width="5.80" height="7.51" fill="url(#pw)" stroke="#4596d6" stroke-width="1.15"/>
<rect x="216.95" y="444.45" width="5.79" height="2.59" fill="url(#pw)" stroke="#4596d6" stroke-width="1.15"/>
<rect x="223.84" y="443.83" width="5.80" height="0.10" fill="url(#pw)" stroke="#4596d6" stroke-width="1.15"/>
<rect x="230.74" y="440.76" width="5.79" height="2.59" fill="url(#pw)" stroke="#4596d6" stroke-width="1.15"/>
<rect x="237.48" y="432.98" width="6.10" height="10.52" fill="url(#ps)" stroke="#cc2626" stroke-width="0.8"/>
<rect x="244.38" y="444.30" width="6.10" height="5.96" fill="url(#ps)" stroke="#cc2626" stroke-width="0.8"/>
<rect x="251.27" y="442.82" width="6.09" height="0.68" fill="url(#ps)" stroke="#cc2626" stroke-width="0.8"/>
<rect x="258.16" y="438.52" width="6.09" height="4.98" fill="url(#ps)" stroke="#cc2626" stroke-width="0.8"/>
<rect x="265.06" y="444.30" width="6.10" height="0.43" fill="url(#ps)" stroke="#cc2626" stroke-width="0.8"/>
<rect x="271.95" y="444.30" width="6.09" height="5.35" fill="url(#ps)" stroke="#cc2626" stroke-width="0.8"/>
<rect x="278.85" y="444.30" width="6.09" height="5.35" fill="url(#ps)" stroke="#cc2626" stroke-width="0.8"/>
<rect x="285.74" y="443.68" width="6.10" height="0.10" fill="url(#ps)" stroke="#cc2626" stroke-width="0.8"/>
<rect x="292.64" y="443.68" width="6.09" height="0.10" fill="url(#ps)" stroke="#cc2626" stroke-width="0.8"/>
<rect x="299.53" y="442.82" width="6.09" height="0.68" fill="url(#ps)" stroke="#cc2626" stroke-width="0.8"/>
<rect x="313.32" y="444.30" width="6.10" height="1.66" fill="url(#ps)" stroke="#cc2626" stroke-width="0.8"/>
<rect x="320.22" y="444.30" width="6.09" height="1.05" fill="url(#ps)" stroke="#cc2626" stroke-width="0.8"/>
<rect x="327.11" y="444.30" width="6.09" height="0.10" fill="url(#ps)" stroke="#cc2626" stroke-width="0.8"/>
<rect x="334.01" y="444.30" width="6.10" height="0.10" fill="url(#ps)" stroke="#cc2626" stroke-width="0.8"/>
<rect x="340.90" y="444.30" width="6.09" height="0.10" fill="url(#ps)" stroke="#cc2626" stroke-width="0.8"/>
<line x1="238.40" y1="394.70" x2="238.40" y2="493.10" stroke="#8c8c8c" stroke-width="0.9"/>
<line x1="209.50" y1="443.90" x2="347.40" y2="443.90" stroke="#1a1a1a" stroke-width="1.3"/>
<line x1="209.50" y1="394.20" x2="209.50" y2="493.60" stroke="#1a1a1a" stroke-width="1.15"/>
<line x1="209.00" y1="493.10" x2="347.90" y2="493.10" stroke="#1a1a1a" stroke-width="1.15"/>
<line x1="209.50" y1="493.10" x2="212.30" y2="493.10" stroke="#1a1a1a" stroke-width="1.0"/>
<text x="205.70" y="496.30" font-size="9" text-anchor="end" >–4</text>
<line x1="209.50" y1="480.80" x2="210.90" y2="480.80" stroke="#1a1a1a" stroke-width="1.0"/>
<line x1="209.50" y1="468.50" x2="212.30" y2="468.50" stroke="#1a1a1a" stroke-width="1.0"/>
<text x="205.70" y="471.70" font-size="9" text-anchor="end" >–2</text>
<line x1="209.50" y1="456.20" x2="210.90" y2="456.20" stroke="#1a1a1a" stroke-width="1.0"/>
<line x1="209.50" y1="443.90" x2="212.30" y2="443.90" stroke="#1a1a1a" stroke-width="1.0"/>
<text x="205.70" y="447.10" font-size="9" text-anchor="end" >0</text>
<line x1="209.50" y1="431.60" x2="210.90" y2="431.60" stroke="#1a1a1a" stroke-width="1.0"/>
<line x1="209.50" y1="419.30" x2="212.30" y2="419.30" stroke="#1a1a1a" stroke-width="1.0"/>
<text x="205.70" y="422.50" font-size="9" text-anchor="end" >2</text>
<line x1="209.50" y1="407.00" x2="210.90" y2="407.00" stroke="#1a1a1a" stroke-width="1.0"/>
<line x1="209.50" y1="394.70" x2="212.30" y2="394.70" stroke="#1a1a1a" stroke-width="1.0"/>
<text x="205.70" y="397.90" font-size="9" text-anchor="end" >4</text>
<line x1="209.50" y1="493.10" x2="209.50" y2="490.50" stroke="#1a1a1a" stroke-width="1.0"/>
<text x="209.50" y="503.50" font-size="9" text-anchor="middle" >0.0</text>
<line x1="226.74" y1="493.10" x2="226.74" y2="491.70" stroke="#1a1a1a" stroke-width="1.0"/>
<line x1="243.97" y1="493.10" x2="243.97" y2="490.50" stroke="#1a1a1a" stroke-width="1.0"/>
<text x="244.17" y="505.10" font-size="9" text-anchor="middle" >5.0×10<tspan font-size="6" dy="-3.6">5</tspan></text>
<line x1="261.21" y1="493.10" x2="261.21" y2="491.70" stroke="#1a1a1a" stroke-width="1.0"/>
<line x1="278.45" y1="493.10" x2="278.45" y2="490.50" stroke="#1a1a1a" stroke-width="1.0"/>
<text x="278.65" y="505.10" font-size="9" text-anchor="middle" >1.0×10<tspan font-size="6" dy="-3.6">6</tspan></text>
<line x1="295.69" y1="493.10" x2="295.69" y2="491.70" stroke="#1a1a1a" stroke-width="1.0"/>
<line x1="312.92" y1="493.10" x2="312.92" y2="490.50" stroke="#1a1a1a" stroke-width="1.0"/>
<text x="313.12" y="505.10" font-size="9" text-anchor="middle" >1.5×10<tspan font-size="6" dy="-3.6">6</tspan></text>
<line x1="330.16" y1="493.10" x2="330.16" y2="491.70" stroke="#1a1a1a" stroke-width="1.0"/>
<line x1="347.40" y1="493.10" x2="347.40" y2="490.50" stroke="#1a1a1a" stroke-width="1.0"/>
<text x="347.60" y="505.10" font-size="9" text-anchor="middle" >2.0×10<tspan font-size="6" dy="-3.6">6</tspan></text>
<text x="228.20" y="393.10" font-size="9.8" text-anchor="start" >Mean</text>
<text x="278.95" y="516.30" font-size="11.0" text-anchor="middle" >Contact Force (N)</text>
<text x="192.30" y="443.90" font-size="11" text-anchor="middle" transform="rotate(-90 192.30 443.90)">Frequency (%)</text>
<rect x="299.40" y="395.00" width="20.40" height="10.00" fill="url(#pw)" stroke="#4596d6" stroke-width="1.4"/>
<rect x="299.20" y="406.20" width="20.80" height="10.40" fill="url(#pl)" stroke="#cc2626" stroke-width="1"/>
<text x="321.80" y="403.35" font-size="9.3" text-anchor="start" >Weak</text>
<text x="321.80" y="414.75" font-size="9.3" text-anchor="start" >Strong</text>
<text x="250.00" y="538.00" font-size="14.2">ε<tspan font-size="10.5">z</tspan><tspan dx="1.6">=</tspan><tspan dx="2.6">6%</tspan></text>
<rect x="395.35" y="402.38" width="5.68" height="41.08" fill="url(#pw)" stroke="#4596d6" stroke-width="1.15"/>
<rect x="402.13" y="438.53" width="5.68" height="4.92" fill="url(#pw)" stroke="#4596d6" stroke-width="1.15"/>
<rect x="408.91" y="437.32" width="5.68" height="6.13" fill="url(#pw)" stroke="#4596d6" stroke-width="1.15"/>
<rect x="415.69" y="444.55" width="5.68" height="3.72" fill="url(#pw)" stroke="#4596d6" stroke-width="1.15"/>
<rect x="422.47" y="444.55" width="5.68" height="5.17" fill="url(#pw)" stroke="#4596d6" stroke-width="1.15"/>
<rect x="435.88" y="444.40" width="5.98" height="4.02" fill="url(#ps)" stroke="#cc2626" stroke-width="0.8"/>
<rect x="442.66" y="444.40" width="5.98" height="7.39" fill="url(#ps)" stroke="#cc2626" stroke-width="0.8"/>
<rect x="449.44" y="444.40" width="5.98" height="5.83" fill="url(#ps)" stroke="#cc2626" stroke-width="0.8"/>
<rect x="456.22" y="444.40" width="5.98" height="2.82" fill="url(#ps)" stroke="#cc2626" stroke-width="0.8"/>
<rect x="463.00" y="443.80" width="5.98" height="0.10" fill="url(#ps)" stroke="#cc2626" stroke-width="0.8"/>
<rect x="469.78" y="444.40" width="5.98" height="5.83" fill="url(#ps)" stroke="#cc2626" stroke-width="0.8"/>
<rect x="476.56" y="443.80" width="5.98" height="0.10" fill="url(#ps)" stroke="#cc2626" stroke-width="0.8"/>
<rect x="483.34" y="444.40" width="5.98" height="4.02" fill="url(#ps)" stroke="#cc2626" stroke-width="0.8"/>
<rect x="496.90" y="444.40" width="5.98" height="5.83" fill="url(#ps)" stroke="#cc2626" stroke-width="0.8"/>
<rect x="503.68" y="443.80" width="5.98" height="0.10" fill="url(#ps)" stroke="#cc2626" stroke-width="0.8"/>
<rect x="510.46" y="444.40" width="5.98" height="2.21" fill="url(#ps)" stroke="#cc2626" stroke-width="0.8"/>
<rect x="517.24" y="444.40" width="5.98" height="3.42" fill="url(#ps)" stroke="#cc2626" stroke-width="0.8"/>
<rect x="524.02" y="442.59" width="5.98" height="1.01" fill="url(#ps)" stroke="#cc2626" stroke-width="0.8"/>
<line x1="428.30" y1="395.80" x2="428.30" y2="492.20" stroke="#8c8c8c" stroke-width="0.9"/>
<line x1="394.80" y1="444.00" x2="530.40" y2="444.00" stroke="#1a1a1a" stroke-width="1.3"/>
<line x1="394.80" y1="395.30" x2="394.80" y2="492.70" stroke="#1a1a1a" stroke-width="1.15"/>
<line x1="394.30" y1="492.20" x2="530.90" y2="492.20" stroke="#1a1a1a" stroke-width="1.15"/>
<line x1="394.80" y1="492.20" x2="397.60" y2="492.20" stroke="#1a1a1a" stroke-width="1.0"/>
<text x="391.00" y="495.40" font-size="9" text-anchor="end" >–4</text>
<line x1="394.80" y1="480.15" x2="396.20" y2="480.15" stroke="#1a1a1a" stroke-width="1.0"/>
<line x1="394.80" y1="468.10" x2="397.60" y2="468.10" stroke="#1a1a1a" stroke-width="1.0"/>
<text x="391.00" y="471.30" font-size="9" text-anchor="end" >–2</text>
<line x1="394.80" y1="456.05" x2="396.20" y2="456.05" stroke="#1a1a1a" stroke-width="1.0"/>
<line x1="394.80" y1="444.00" x2="397.60" y2="444.00" stroke="#1a1a1a" stroke-width="1.0"/>
<text x="391.00" y="447.20" font-size="9" text-anchor="end" >0</text>
<line x1="394.80" y1="431.95" x2="396.20" y2="431.95" stroke="#1a1a1a" stroke-width="1.0"/>
<line x1="394.80" y1="419.90" x2="397.60" y2="419.90" stroke="#1a1a1a" stroke-width="1.0"/>
<text x="391.00" y="423.10" font-size="9" text-anchor="end" >2</text>
<line x1="394.80" y1="407.85" x2="396.20" y2="407.85" stroke="#1a1a1a" stroke-width="1.0"/>
<line x1="394.80" y1="395.80" x2="397.60" y2="395.80" stroke="#1a1a1a" stroke-width="1.0"/>
<text x="391.00" y="399.00" font-size="9" text-anchor="end" >4</text>
<line x1="394.80" y1="492.20" x2="394.80" y2="489.60" stroke="#1a1a1a" stroke-width="1.0"/>
<text x="394.80" y="502.60" font-size="9" text-anchor="middle" >0.0</text>
<line x1="411.75" y1="492.20" x2="411.75" y2="490.80" stroke="#1a1a1a" stroke-width="1.0"/>
<line x1="428.70" y1="492.20" x2="428.70" y2="489.60" stroke="#1a1a1a" stroke-width="1.0"/>
<text x="428.90" y="504.20" font-size="9" text-anchor="middle" >5.0×10<tspan font-size="6" dy="-3.6">5</tspan></text>
<line x1="445.65" y1="492.20" x2="445.65" y2="490.80" stroke="#1a1a1a" stroke-width="1.0"/>
<line x1="462.60" y1="492.20" x2="462.60" y2="489.60" stroke="#1a1a1a" stroke-width="1.0"/>
<text x="462.80" y="504.20" font-size="9" text-anchor="middle" >1.0×10<tspan font-size="6" dy="-3.6">6</tspan></text>
<line x1="479.55" y1="492.20" x2="479.55" y2="490.80" stroke="#1a1a1a" stroke-width="1.0"/>
<line x1="496.50" y1="492.20" x2="496.50" y2="489.60" stroke="#1a1a1a" stroke-width="1.0"/>
<text x="496.70" y="504.20" font-size="9" text-anchor="middle" >1.5×10<tspan font-size="6" dy="-3.6">6</tspan></text>
<line x1="513.45" y1="492.20" x2="513.45" y2="490.80" stroke="#1a1a1a" stroke-width="1.0"/>
<line x1="530.40" y1="492.20" x2="530.40" y2="489.60" stroke="#1a1a1a" stroke-width="1.0"/>
<text x="530.60" y="504.20" font-size="9" text-anchor="middle" >2.0×10<tspan font-size="6" dy="-3.6">6</tspan></text>
<text x="418.10" y="394.20" font-size="9.8" text-anchor="start" >Mean</text>
<text x="463.10" y="515.20" font-size="10.8" text-anchor="middle" >Contact Force (N)</text>
<text x="377.30" y="444.00" font-size="11" text-anchor="middle" transform="rotate(-90 377.30 444.00)">Frequency (%)</text>
<rect x="482.80" y="396.10" width="20.40" height="10.00" fill="url(#pw)" stroke="#4596d6" stroke-width="1.4"/>
<rect x="482.60" y="407.30" width="20.80" height="10.40" fill="url(#pl)" stroke="#cc2626" stroke-width="1"/>
<text x="505.20" y="404.45" font-size="9.3" text-anchor="start" >Weak</text>
<text x="505.20" y="415.85" font-size="9.3" text-anchor="start" >Strong</text>
<text x="430.50" y="538.00" font-size="14.2">ε<tspan font-size="10.5">z</tspan><tspan dx="1.6">=</tspan><tspan dx="2.6">18%</tspan></text>
<text x="271.10" y="14.00" font-size="14" text-anchor="middle" font-weight="bold">(a)</text>
<text x="271.10" y="190.40" font-size="14" text-anchor="middle" font-weight="bold">(b)</text>
<text x="270.60" y="376.80" font-size="14" text-anchor="middle" font-weight="bold">(c)</text>
</svg>
</body></html>
